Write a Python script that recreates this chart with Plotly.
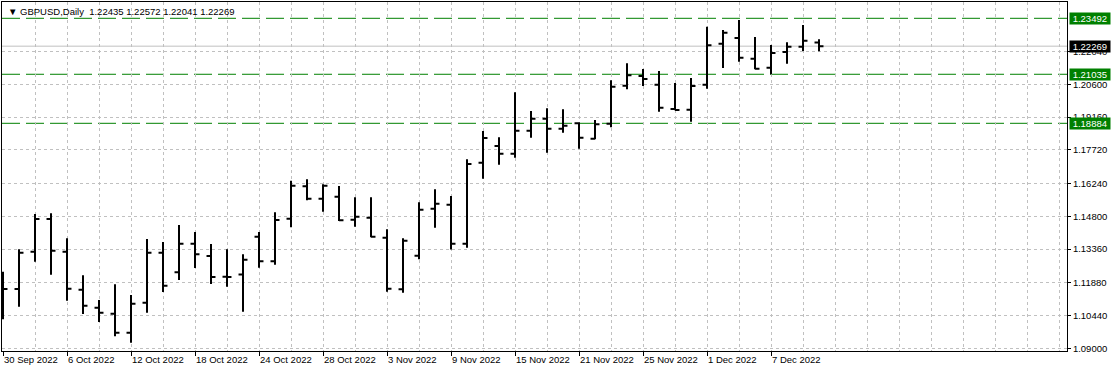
import plotly.graph_objects as go

symbol = "GBPUSD,Daily"

dates = [
    "30 Sep 2022", "3 Oct 2022", "4 Oct 2022", "5 Oct 2022", "6 Oct 2022", "7 Oct 2022",
    "10 Oct 2022", "11 Oct 2022", "12 Oct 2022", "13 Oct 2022", "14 Oct 2022",
    "17 Oct 2022", "18 Oct 2022", "19 Oct 2022", "20 Oct 2022", "21 Oct 2022",
    "24 Oct 2022", "25 Oct 2022", "26 Oct 2022", "27 Oct 2022", "28 Oct 2022",
    "31 Oct 2022", "1 Nov 2022", "2 Nov 2022", "3 Nov 2022", "4 Nov 2022",
    "7 Nov 2022", "8 Nov 2022", "9 Nov 2022", "10 Nov 2022", "11 Nov 2022",
    "14 Nov 2022", "15 Nov 2022", "16 Nov 2022", "17 Nov 2022", "18 Nov 2022",
    "21 Nov 2022", "22 Nov 2022", "23 Nov 2022", "24 Nov 2022", "25 Nov 2022",
    "28 Nov 2022", "29 Nov 2022", "30 Nov 2022", "1 Dec 2022", "2 Dec 2022",
    "5 Dec 2022", "6 Dec 2022", "7 Dec 2022", "8 Dec 2022", "9 Dec 2022", "12 Dec 2022",
]

opens = [
    1.12007, 1.11612, 1.13249, 1.14684, 1.13249, 1.11581,
    1.10791, 1.10528, 1.09694, 1.11011, 1.13205,
    1.12345, 1.13600, 1.13060, 1.12152, 1.12248,
    1.13907, 1.12827, 1.14697, 1.16119, 1.15575,
    1.15663, 1.14653, 1.14741, 1.13863, 1.11599,
    1.13073, 1.15132, 1.15311, 1.13600, 1.17155,
    1.17888, 1.17550, 1.18559, 1.19086, 1.18647,
    1.18884, 1.18208, 1.18866, 1.20534, 1.20960,
    1.20578, 1.19511, 1.19481, 1.20578, 1.22377,
    1.22627, 1.21719, 1.21324, 1.22013, 1.22246, 1.22435,
]
highs = [
    1.12371, 1.13354, 1.14903, 1.14934, 1.13837, 1.12213,
    1.11129, 1.11818, 1.11348, 1.13806, 1.13674,
    1.14421, 1.14113, 1.13587, 1.13354, 1.13135,
    1.14113, 1.14978, 1.16365, 1.16426, 1.16207,
    1.16132, 1.15636, 1.15636, 1.14232, 1.13837,
    1.15417, 1.15992, 1.15693, 1.17304, 1.18546,
    1.18269, 1.20244, 1.19424, 1.19542, 1.19498,
    1.18928, 1.19029, 1.20771, 1.21521, 1.21267,
    1.21179, 1.20653, 1.20872, 1.23123, 1.22979,
    1.23417, 1.22671, 1.22320, 1.22439, 1.23198, 1.22572,
]
lows = [
    1.10282, 1.10835, 1.12810, 1.12239, 1.11098, 1.10515,
    1.10164, 1.09536, 1.09255, 1.10572, 1.11480,
    1.12007, 1.12533, 1.11831, 1.11713, 1.10616,
    1.12547, 1.12678, 1.14320, 1.15505, 1.15004,
    1.14596, 1.14346, 1.13880, 1.11493, 1.11449,
    1.12915, 1.14302, 1.13345, 1.13424, 1.16453,
    1.17067, 1.17374, 1.18252, 1.17594, 1.18471,
    1.17769, 1.18182, 1.18708, 1.20376, 1.20521,
    1.19393, 1.19454, 1.18954, 1.20402, 1.21311,
    1.21587, 1.21254, 1.21034, 1.21499, 1.22057, 1.22041,
]
closes = [
    1.11612, 1.13205, 1.14684, 1.13293, 1.11625, 1.10879,
    1.10572, 1.09694, 1.10967, 1.13205, 1.11757,
    1.13600, 1.13135, 1.12138, 1.12140, 1.12898,
    1.12827, 1.14640, 1.16145, 1.15575, 1.16145,
    1.14627, 1.14785, 1.13900, 1.11625, 1.13732,
    1.15092, 1.15355, 1.13595, 1.17098, 1.18239,
    1.17550, 1.18559, 1.19086, 1.18647, 1.18779,
    1.18252, 1.18840, 1.20490, 1.20990, 1.20828,
    1.19569, 1.19468, 1.20521, 1.22307, 1.22860,
    1.21763, 1.21280, 1.21969, 1.22246, 1.22509, 1.22269,
]

levels = [1.23492, 1.21035, 1.18884]

y_tick_vals = [1.09000, 1.10440, 1.11880, 1.13360, 1.14800, 1.16240, 1.17720, 1.19160, 1.20600, 1.22040]
y_tick_labels = ["1.09000", "1.10440", "1.11880", "1.13360", "1.14800", "1.16240",
                 "1.17720", "1.19160", "1.20600", "1.22040"]

x_tick_labels = ["30 Sep 2022", "6 Oct 2022", "12 Oct 2022", "18 Oct 2022", "24 Oct 2022",
                 "28 Oct 2022", "3 Nov 2022", "9 Nov 2022", "15 Nov 2022", "21 Nov 2022",
                 "25 Nov 2022", "1 Dec 2022", "7 Dec 2022"]

FONT = "Liberation Sans, Arial, sans-serif"
GREEN = "#008000"
GRID = "#c0c0c0"

idx = list(range(len(dates)))
x_tick_vals = [dates.index(lbl) for lbl in x_tick_labels]

fig = go.Figure()
fig.add_trace(go.Ohlc(
    x=idx, open=opens, high=highs, low=lows, close=closes,
    increasing=dict(line=dict(color="black", width=2)),
    decreasing=dict(line=dict(color="black", width=2)),
    tickwidth=0.28,
    text=dates, hoverinfo="text+y",
    showlegend=False,
))

shapes = []
for lv in levels:
    shapes.append(dict(type="line", xref="paper", x0=0, x1=1, yref="y", y0=lv, y1=lv,
                       line=dict(color=GREEN, width=1, dash="18px,6px"), layer="below"))
shapes.append(dict(type="line", xref="paper", x0=0, x1=1, yref="y", y0=closes[-1], y1=closes[-1],
                   line=dict(color=GRID, width=1), layer="below"))

annotations = []
for lv in levels:
    annotations.append(dict(xref="paper", x=1, xanchor="left", xshift=2,
                            yref="y", y=lv, yanchor="middle",
                            text="\u00a0%.5f\u00a0" % lv, showarrow=False,
                            bgcolor=GREEN, borderpad=0,
                            font=dict(family=FONT, size=9.5, color="white")))
annotations.append(dict(xref="paper", x=1, xanchor="left", xshift=2,
                        yref="y", y=closes[-1], yanchor="middle",
                        text="\u00a0%.5f\u00a0" % closes[-1], showarrow=False,
                        bgcolor="black", borderpad=0,
                        font=dict(family=FONT, size=9.5, color="white")))
annotations.append(dict(xref="paper", x=0, xanchor="left", xshift=4,
                        yref="paper", y=1, yanchor="top", yshift=-2,
                        text="\u25bc\u00a0%s\u00a0\u00a0%.5f %.5f %.5f %.5f" % (
                            symbol, opens[-1], highs[-1], lows[-1], closes[-1]),
                        showarrow=False,
                        font=dict(family=FONT, size=9.5, color="black")))

fig.update_layout(
    width=1114, height=372,
    margin=dict(l=2, r=47, t=2, b=21),
    paper_bgcolor="white", plot_bgcolor="white",
    font=dict(family=FONT, size=9.5, color="black"),
    showlegend=False,
    shapes=shapes,
    annotations=annotations,
    xaxis=dict(
        range=[-0.0625, 66.5],
        tickmode="array", tickvals=x_tick_vals, ticktext=x_tick_labels,
        ticks="outside", ticklen=4, tickcolor="black", tickwidth=1,
        ticklabelposition="outside right",
        showline=True, linecolor="black", linewidth=1, mirror=True,
        showgrid=True, gridcolor=GRID, gridwidth=1, griddash="3px,3px",
        minor=dict(tickmode="linear", tick0=0, dtick=2, showgrid=True,
                   gridcolor=GRID, gridwidth=1, griddash="3px,3px", ticks=""),
        zeroline=False,
        rangeslider=dict(visible=False),
        fixedrange=True,
    ),
    yaxis=dict(
        side="right",
        range=[1.088908, 1.242073],
        tickmode="array", tickvals=y_tick_vals, ticktext=y_tick_labels,
        ticks="outside", ticklen=3, tickcolor="black", tickwidth=1,
        showline=True, linecolor="black", linewidth=1, mirror=True,
        showgrid=True, gridcolor=GRID, gridwidth=1, griddash="3px,3px",
        zeroline=False,
        fixedrange=True,
    ),
)

fig.write_html("out.html", config={"displayModeBar": False})
